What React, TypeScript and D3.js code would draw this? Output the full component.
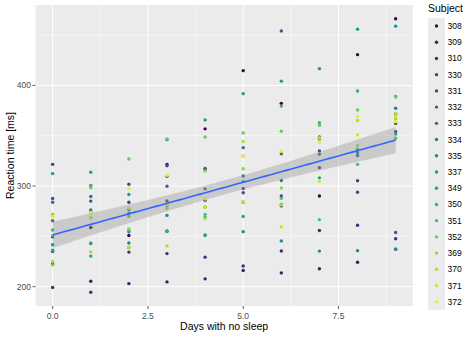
import React from "react";
import * as d3 from "d3";

const subjects = ["308","309","310","330","331","332","333","334","335","337","349","350","351","352","369","370","371","372"];
const days = [0,1,2,3,4,5,6,7,8,9];
const reaction: number[][] = [
  [249.56,258.7047,250.8006,321.4398,356.8519,414.6901,382.2038,290.1486,430.5853,466.3535],
  [222.7339,205.2658,202.9778,204.707,207.7161,215.9618,213.6303,217.7272,224.2957,237.3142],
  [199.0539,194.3322,234.32,232.8416,229.3074,220.4579,235.4208,255.7511,261.0125,247.5153],
  [321.5426,300.4002,283.8565,285.133,285.7973,297.5855,280.2396,318.2613,305.3495,354.0487],
  [287.6079,285.0,301.8206,320.1153,316.2773,293.3187,290.075,334.8177,293.7469,371.5811],
  [234.8606,242.8118,272.9613,309.7688,317.4629,309.9976,454.1619,346.8311,330.3003,253.8644],
  [283.8424,289.555,276.7693,299.8097,297.171,338.1665,332.0265,348.8399,333.36,362.0428],
  [265.4731,276.2012,243.3647,254.6723,279.0244,284.1912,305.5248,331.5229,335.7469,377.299],
  [241.6083,273.9472,254.4907,270.8021,251.4519,254.6362,245.4523,235.311,235.7541,237.2466],
  [312.3666,313.8058,291.6112,346.1222,365.7324,391.8385,404.2601,416.6923,455.8643,458.9167],
  [236.1032,230.3167,238.9256,254.922,250.7103,269.7744,281.5648,308.102,336.2806,351.6451],
  [256.2968,243.4543,256.2046,255.5271,268.9165,329.7247,379.4445,362.9184,394.4872,389.0527],
  [250.5265,300.0576,269.8939,280.5891,271.8274,304.6336,287.7466,266.5955,321.5418,347.5655],
  [221.6771,298.1939,326.8785,346.8555,348.7402,352.8287,354.4266,360.4326,375.6406,388.5417],
  [271.9235,268.4369,257.2424,277.6566,314.8222,317.2135,298.1353,348.1229,340.28,366.5131],
  [225.264,234.5235,238.9008,240.473,267.5373,344.1937,281.1481,347.5855,365.163,372.2288],
  [269.8804,272.4428,277.8989,281.7895,279.1705,284.512,259.2658,304.6306,350.7807,369.4692],
  [269.4117,273.474,297.5968,310.6316,287.1726,329.6076,334.4818,343.2199,369.1417,364.1236],
];
const xTicks = [0, 2.5, 5, 7.5];
const xMinor = [1.25, 3.75, 6.25, 8.75];
const yTicks = [200, 300, 400];
const yMinor = [250, 350, 450];

export default function App() {
  const W = 474, H = 338;
  const panel = { l: 35.5, r: 412.8, t: 5, b: 306 };
  const pts = subjects.flatMap((s, i) => days.map((d, j) => ({ s, i, d, v: reaction[i][j] })));
  const vals = pts.map(p => p.v);
  const [vmin, vmax] = d3.extent(vals) as [number, number];
  const ypad = (vmax - vmin) * 0.05;
  const x = d3.scaleLinear().domain([-0.45, 9.45]).range([panel.l, panel.r]);
  const y = d3.scaleLinear().domain([vmin - ypad, vmax + ypad]).range([panel.b, panel.t]);
  const color = (i: number) => d3.interpolateViridis(i / (subjects.length - 1));

  // linear model
  const n = pts.length;
  const mx = d3.mean(pts, p => p.d)!;
  const my = d3.mean(pts, p => p.v)!;
  const sxx = d3.sum(pts, p => (p.d - mx) ** 2);
  const sxy = d3.sum(pts, p => (p.d - mx) * (p.v - my));
  const b1 = sxy / sxx, b0 = my - b1 * mx;
  const rss = d3.sum(pts, p => (p.v - b0 - b1 * p.d) ** 2);
  const sigma = Math.sqrt(rss / (n - 2));
  const tq = 1.9734;
  const grid = d3.range(0, 80).map(k => 9 * k / 79);
  const band = grid.map(g => {
    const f = b0 + b1 * g;
    const se = sigma * Math.sqrt(1 / n + (g - mx) ** 2 / sxx);
    return { g, f, lo: f - tq * se, hi: f + tq * se };
  });
  const area = d3.area<any>().x(d => x(d.g)).y0(d => y(d.lo)).y1(d => y(d.hi));
  const line = d3.line<any>().x(d => x(d.g)).y(d => y(d.f));

  const font = "Liberation Sans, Arial, sans-serif";
  const legTop = 17.9, legStep = 16.22;

  return (
    <svg width={W} height={H} style={{ position: "absolute", left: 0, top: 0, fontFamily: font }}>
      <rect x={0} y={0} width={W} height={H} fill="#fff" />
      <rect x={panel.l} y={panel.t} width={panel.r - panel.l} height={panel.b - panel.t} fill="#EBEBEB" />
      {xMinor.map(t => <line key={"xm" + t} x1={x(t)} x2={x(t)} y1={panel.t} y2={panel.b} stroke="#fff" strokeWidth={0.5} />)}
      {yMinor.map(t => <line key={"ym" + t} x1={panel.l} x2={panel.r} y1={y(t)} y2={y(t)} stroke="#fff" strokeWidth={0.5} />)}
      {xTicks.map(t => <line key={"xM" + t} x1={x(t)} x2={x(t)} y1={panel.t} y2={panel.b} stroke="#fff" strokeWidth={1} />)}
      {yTicks.map(t => <line key={"yM" + t} x1={panel.l} x2={panel.r} y1={y(t)} y2={y(t)} stroke="#fff" strokeWidth={1} />)}
      {pts.map((p, k) => <circle key={k} cx={x(p.d)} cy={y(p.v)} r={1.7} fill={color(p.i)} />)}
      <path d={area(band)!} fill="#999999" fillOpacity={0.4} />
      <path d={line(band)!} fill="none" stroke="#3366FF" strokeWidth={1.6} />
      {xTicks.map(t => (
        <g key={"xt" + t}>
          <line x1={x(t)} x2={x(t)} y1={panel.b} y2={panel.b + 3} stroke="#333" strokeWidth={0.8} />
          <text x={x(t)} y={319} textAnchor="middle" fontSize={8.5} fill="#4D4D4D">{d3.format(".1f")(t)}</text>
        </g>
      ))}
      {yTicks.map(t => (
        <g key={"yt" + t}>
          <line x1={panel.l - 3} x2={panel.l} y1={y(t)} y2={y(t)} stroke="#333" strokeWidth={0.8} />
          <text x={panel.l - 4.5} y={y(t) + 3} textAnchor="end" fontSize={8.5} fill="#4D4D4D">{t}</text>
        </g>
      ))}
      <text x={(panel.l + panel.r) / 2} y={330} textAnchor="middle" fontSize={10.5} fill="#000">Days with no sleep</text>
      <text transform={`translate(13.5,${(panel.t + panel.b) / 2}) rotate(-90)`} textAnchor="middle" fontSize={10.5} fill="#000">Reaction time [ms]</text>
      <text x={428} y={12} fontSize={10.5} fill="#000">Subject</text>
      <rect x={428} y={legTop} width={17} height={legStep * subjects.length} fill="#EBEBEB" />
      {subjects.map((s, i) => (
        <g key={s}>
          <circle cx={436.5} cy={legTop + legStep * (i + 0.5)} r={1.7} fill={color(i)} />
          <text x={447.5} y={legTop + legStep * (i + 0.5) + 3} fontSize={8.5} fill="#000">{s}</text>
        </g>
      ))}
    </svg>
  );
}
